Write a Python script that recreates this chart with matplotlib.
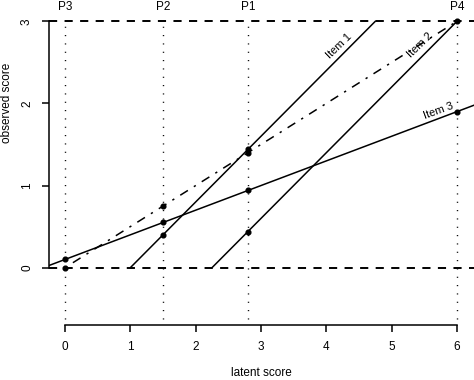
import matplotlib
matplotlib.use("Agg")
import matplotlib.pyplot as plt
from matplotlib.transforms import blended_transform_factory

plt.rcParams['font.family'] = ['Liberation Sans', 'DejaVu Sans']

# person positions on the latent scale
p_x = [0, 1.5, 2.8, 6]
p_labels = ['P3', 'P2', 'P1', 'P4']

# item response lines (end points)
item1_x = [1.0, 4.75]
item1_y = [0.0, 3.0]
item2_x = [2.25, 6.0]
item2_y = [0.0, 3.0]
item3_x = [-0.333, 6.4]
item3_y = [0.0, 2.02]
test_x = [0.0, 6.0]
test_y = [0.0, 3.0]

# marked points
pt_x = [0, 0, 1.5, 1.5, 1.5, 2.8, 2.8, 2.8, 2.8, 6, 6]
pt_y = [0.0, 0.1, 0.75, 0.55, 0.4, 1.44, 1.4, 0.94, 0.44, 3.0, 1.9]

# item labels: (text, x, y, angle)
item_labels = [('Item 1', 4.20, 2.70, 44),
               ('Item 2', 5.44, 2.71, 44),
               ('Item 3', 5.72, 1.91, 20)]

fig = plt.figure(figsize=(4.74, 3.8), dpi=100)
ax = fig.add_axes([49 / 474, 55 / 380, 1 - 49 / 474, (380 - 55 - 18.8) / 380])
ax.set_xlim(-0.245, 6.26)
ax.set_ylim(-0.698, 3.03)

# reference lines
for y in [0, 3]:
    ax.axhline(y, color='black', lw=1.4, linestyle=(0, (4.2, 3.8)), zorder=2)
for x in p_x:
    ax.plot([x, x], [-0.62, 3.0], color='black', lw=1.0,
            linestyle=(0, (0.8, 5.2)), zorder=1)

ax.plot(item1_x, item1_y, color='black', lw=1.1)
ax.plot(item2_x, item2_y, color='black', lw=1.1)
ax.plot(item3_x, item3_y, color='black', lw=1.1)
ax.plot(test_x, test_y, color='black', lw=1.1,
        linestyle=(0, (1.5, 4.6, 5.9, 4.6)))
ax.plot(pt_x, pt_y, 'o', color='black', markersize=3.4, clip_on=False, zorder=5)

for txt, x, y, ang in item_labels:
    ax.text(x, y, txt, fontsize=8, rotation=ang, rotation_mode='anchor',
            ha='center', va='center')

# person labels above the plot
trans = blended_transform_factory(ax.transData, fig.transFigure)
for x, lab in zip(p_x, p_labels):
    ax.text(x, 1 - 6.5 / 380, lab, transform=trans, fontsize=8.5,
            ha='center', va='center', clip_on=False)

# R-style axes
for s in ['top', 'right']:
    ax.spines[s].set_visible(False)
ax.spines['bottom'].set_bounds(0, 6)
ax.spines['left'].set_bounds(0, 3)
for s in ['bottom', 'left']:
    ax.spines[s].set_linewidth(1.1)
ax.set_xticks([0, 1, 2, 3, 4, 5, 6])
ax.set_yticks([0, 1, 2, 3])
ax.tick_params(direction='out', length=5, width=1.1, labelsize=8.5, pad=6.5)
ax.tick_params(axis='y', labelrotation=90)
for lab in ax.get_yticklabels():
    lab.set_verticalalignment('center')

fig.text(261 / 474, 1.5 / 380, 'latent score', fontsize=8.5,
         ha='center', va='bottom')
fig.text(7.5 / 474, 1 - 103 / 380, 'observed score', fontsize=8.5,
         rotation=90, ha='center', va='center')

fig.savefig('out.png', dpi=100)
